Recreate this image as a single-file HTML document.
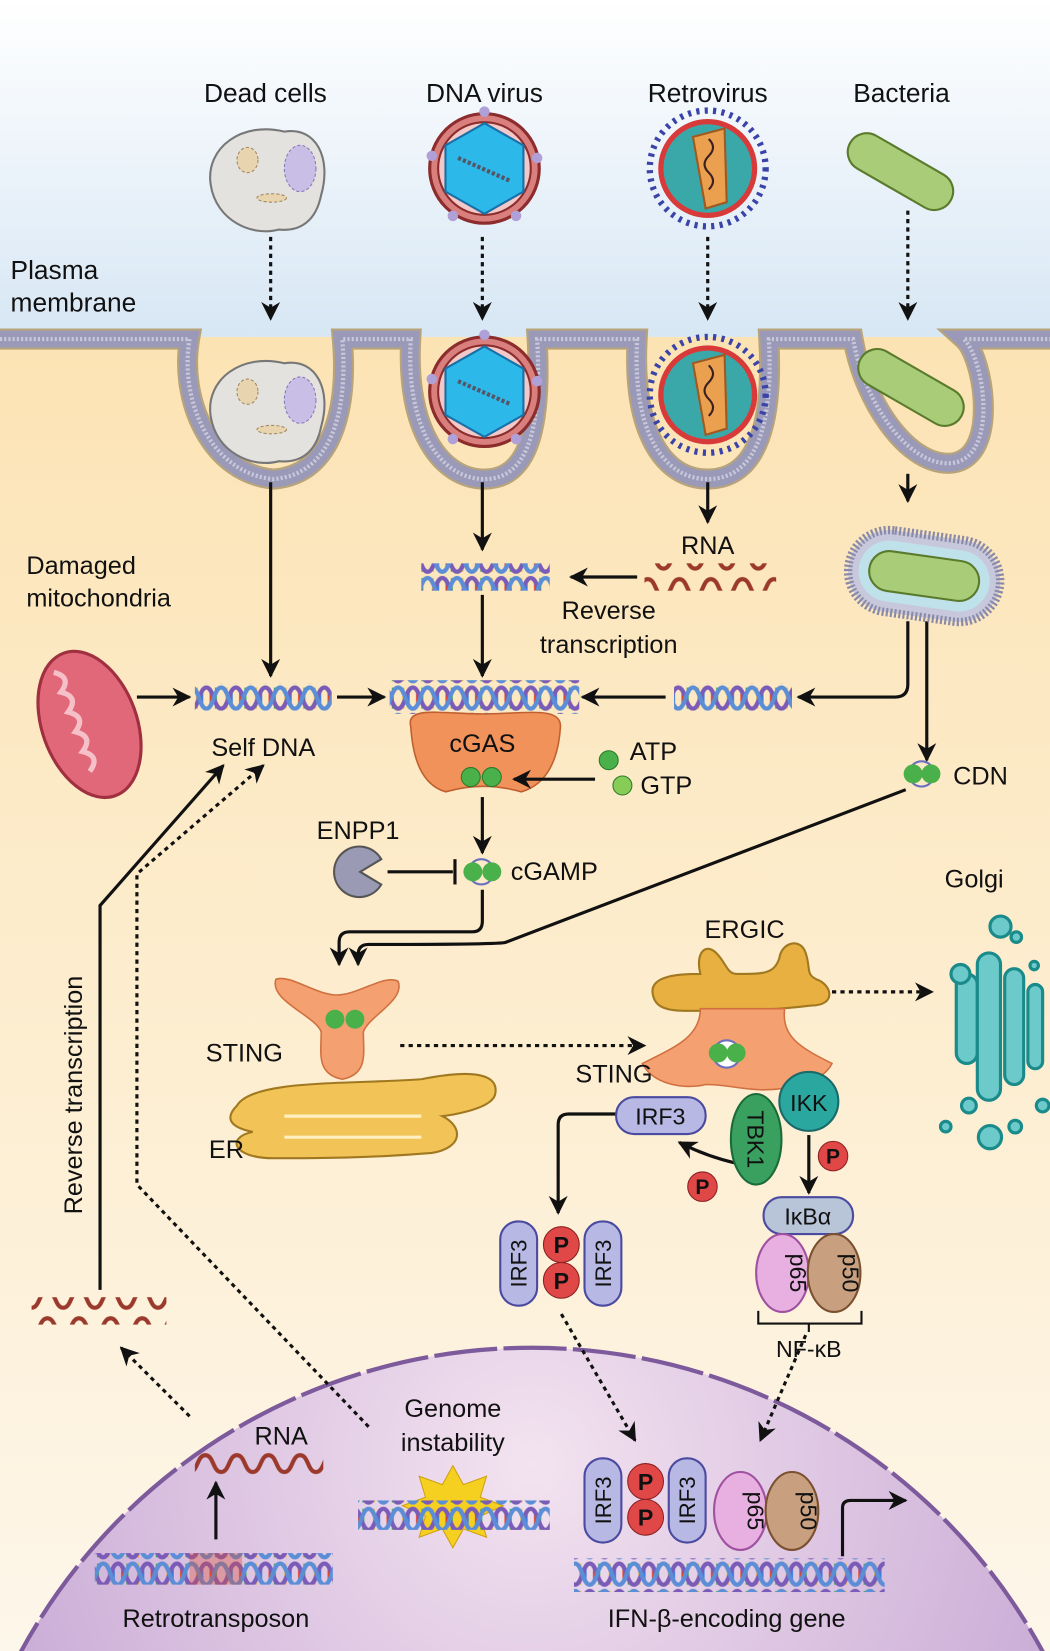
<!DOCTYPE html>
<html><head><meta charset="utf-8"><style>
html,body{margin:0;padding:0;width:1050px;height:1651px;overflow:hidden;background:#fff}
svg{display:block}
text{font-family:"Liberation Sans",sans-serif;fill:#111}
</style></head><body>
<svg width="1050" height="1651" viewBox="0 0 997 1568" preserveAspectRatio="none" xmlns="http://www.w3.org/2000/svg">
<defs>
<linearGradient id="sky" x1="0" y1="0" x2="0" y2="1"><stop offset="0" stop-color="#ffffff"/><stop offset="1" stop-color="#d6e6f4"/></linearGradient>
<linearGradient id="cyto" x1="0" y1="0" x2="0" y2="1"><stop offset="0" stop-color="#fce3b4"/><stop offset="0.6" stop-color="#fdefd4"/><stop offset="1" stop-color="#fdf6ea"/></linearGradient>
<radialGradient id="nuc" cx="0.5" cy="0.1" r="0.9"><stop offset="0" stop-color="#f3e3f0"/><stop offset="0.5" stop-color="#cdb0d8"/><stop offset="1" stop-color="#9d7bb8"/></radialGradient>
<pattern id="helix" width="28" height="26" patternUnits="userSpaceOnUse">
<line x1="4" y1="5" x2="4" y2="21" stroke="#e0442a" stroke-width="2"/><line x1="9" y1="3" x2="9" y2="23" stroke="#3ab24a" stroke-width="2"/><line x1="19" y1="3" x2="19" y2="23" stroke="#f2b632" stroke-width="2"/><line x1="24" y1="5" x2="24" y2="21" stroke="#3a7be0" stroke-width="2"/>
<path d="M0 3 C7 3 7 23 14 23 C21 23 21 3 28 3" fill="none" stroke="#7a5cb8" stroke-width="4"/>
<path d="M0 23 C7 23 7 3 14 3 C21 3 21 23 28 23" fill="none" stroke="#5b8ed6" stroke-width="4"/>
</pattern>
<pattern id="rna" width="30" height="26" patternUnits="userSpaceOnUse">
<path d="M0 20 C8 20 7 4 15 4 C23 4 22 20 30 20" fill="none" stroke="#9b3a2c" stroke-width="4"/>
</pattern>
<marker id="ar" viewBox="0 0 10 10" refX="9" refY="5" markerWidth="6" markerHeight="6" orient="auto"><path d="M0 0L10 5L0 10L3 5z" fill="#111"/></marker>
</defs>

<rect width="997" height="330" fill="url(#sky)"/>
<rect y="320" width="997" height="1248" fill="url(#cyto)"/>
<circle cx="505" cy="1832" r="552" fill="url(#nuc)" stroke="#7c5a9c" stroke-width="4" stroke-dasharray="60 6"/>

<!-- membrane -->
<g fill="none">
<path d="M0 322 H180 C170 380 200 450 260 455 C320 450 330 380 325 322 H390 C385 410 420 455 460 455 C500 455 515 410 510 322 H605 C600 410 630 455 672 455 C715 455 735 410 730 322 H810 C820 380 860 440 900 440 C950 440 935 340 915 322 H997" stroke="#b8a47a" stroke-width="20"/>
<path d="M0 322 H180 C170 380 200 450 260 455 C320 450 330 380 325 322 H390 C385 410 420 455 460 455 C500 455 515 410 510 322 H605 C600 410 630 455 672 455 C715 455 735 410 730 322 H810 C820 380 860 440 900 440 C950 440 935 340 915 322 H997" stroke="#9a9ab8" stroke-width="16"/>
<path d="M0 322 H180 C170 380 200 450 260 455 C320 450 330 380 325 322 H390 C385 410 420 455 460 455 C500 455 515 410 510 322 H605 C600 410 630 455 672 455 C715 455 735 410 730 322 H810 C820 380 860 440 900 440 C950 440 935 340 915 322 H997" stroke="#c8c8dc" stroke-width="4" stroke-dasharray="2 2"/>
</g>

<g font-size="25" text-anchor="middle">
<text x="252" y="97">Dead cells</text><text x="460" y="97">DNA virus</text><text x="672" y="97">Retrovirus</text><text x="856" y="97">Bacteria</text>
</g>
<text x="10" y="265" font-size="25">Plasma</text><text x="10" y="296" font-size="25">membrane</text>

<g id="dc"><path d="M200 175 C195 140 230 115 270 125 C300 120 315 150 305 185 C300 210 285 220 265 218 C240 225 205 210 200 175z" fill="#e3e2de" stroke="#777" stroke-width="2"/>
<ellipse cx="285" cy="160" rx="15" ry="22" fill="#c9bfe6" stroke="#8877bb" stroke-dasharray="3 2"/>
<ellipse cx="235" cy="152" rx="10" ry="12" fill="#e8d5b0" stroke="#a08860" stroke-dasharray="3 2"/>
<ellipse cx="258" cy="188" rx="14" ry="4" fill="#e8d5b0" stroke="#a08860" stroke-dasharray="3 2"/></g>
<use href="#dc" transform="translate(0,220)"/>
<g id="dv"><circle cx="460" cy="160" r="52" fill="#d9807f" stroke="#8c2c2c" stroke-width="3"/><circle cx="460" cy="160" r="44" fill="#f3c8c8" stroke="#8c2c2c" stroke-width="2"/>
<polygon points="460,117 497,138 497,182 460,203 423,182 423,138" fill="#2cb8e8" stroke="#1870a8" stroke-width="2"/>
<line x1="435" y1="150" x2="485" y2="172" stroke="#556" stroke-width="4" stroke-dasharray="3 2"/>
<circle cx="410" cy="148" r="5" fill="#b0a0d8"/><circle cx="510" cy="150" r="5" fill="#b0a0d8"/><circle cx="430" cy="205" r="5" fill="#b0a0d8"/><circle cx="490" cy="205" r="5" fill="#b0a0d8"/><circle cx="460" cy="106" r="5" fill="#b0a0d8"/></g>
<use href="#dv" transform="translate(0,212)"/>
<g id="rv"><circle cx="672" cy="160" r="55" fill="none" stroke="#3a44a8" stroke-width="6" stroke-dasharray="3 5"/><circle cx="672" cy="160" r="47" fill="#d83a3a"/><circle cx="672" cy="160" r="42" fill="#3aa8a8"/>
<path d="M658 130 L688 122 L690 192 L670 198z" fill="#eba050" stroke="#a05a20" stroke-width="2"/><path d="M673 132 q8 8 0 16 q-8 8 0 16 q8 8 0 16" fill="none" stroke="#3a2020" stroke-width="2"/></g>
<use href="#rv" transform="translate(0,215)"/>
<rect x="800" y="145" width="110" height="36" rx="18" fill="#a8cc78" stroke="#5a7a2c" stroke-width="2" transform="rotate(30 855 163)"/>
<rect x="810" y="350" width="110" height="36" rx="18" fill="#a8cc78" stroke="#5a7a2c" stroke-width="2" transform="rotate(30 865 368)"/>

<g stroke="#111" stroke-width="3" stroke-dasharray="4 4" marker-end="url(#ar)" fill="none">
<line x1="257" y1="225" x2="257" y2="303"/><line x1="458" y1="225" x2="458" y2="303"/><line x1="672" y1="225" x2="672" y2="303"/><line x1="862" y1="200" x2="862" y2="303"/>
</g>

<g stroke="#111" stroke-width="3" fill="none" marker-end="url(#ar)">
<line x1="257" y1="458" x2="257" y2="642"/>
<line x1="458" y1="458" x2="458" y2="522"/>
<line x1="672" y1="458" x2="672" y2="496"/>
<line x1="862" y1="450" x2="862" y2="476"/>
<line x1="605" y1="548" x2="542" y2="548"/>
<line x1="458" y1="565" x2="458" y2="642"/>
<path d="M862 590 V650 Q862 662 850 662 H758"/>
<path d="M632 662 H553"/>
<path d="M880 590 V722"/>
<line x1="130" y1="662" x2="180" y2="662"/>
<line x1="320" y1="662" x2="365" y2="662"/>
<line x1="458" y1="757" x2="458" y2="810"/>
<path d="M458 845 V875 Q458 885 448 885 H332 Q322 885 322 895 V916"/>
<path d="M860 750 L480 895 Q475 897 350 897 Q340 897 340 907 V916"/>
<path d="M700 1105 Q670 1098 645 1085"/>
<line x1="768" y1="1078" x2="768" y2="1133"/>
<path d="M585 1058 H540 Q530 1058 530 1068 V1152"/>
<path d="M95 1225 V860 L212 727"/>
<line x1="205" y1="1462" x2="205" y2="1408"/>
<path d="M800 1478 V1432 Q800 1425 808 1425 H860"/>
</g>
<g stroke="#111" stroke-width="3" stroke-dasharray="4 4" fill="none" marker-end="url(#ar)">
<line x1="380" y1="993" x2="612" y2="993"/>
<line x1="790" y1="942" x2="885" y2="942"/>
<line x1="533" y1="1248" x2="603" y2="1368"/>
<line x1="765" y1="1268" x2="722" y2="1368"/>
<line x1="180" y1="1345" x2="115" y2="1280"/>
<path d="M350 1355 L130 1125 V830 L250 727"/>
</g>

<rect x="805" y="508" width="145" height="78" rx="39" fill="#c8c8dc" stroke="#8a8aa8" stroke-width="8" stroke-dasharray="2 2" transform="rotate(8 877 547)"/>
<rect x="815" y="518" width="125" height="58" rx="29" fill="#bfe2ea" transform="rotate(8 877 547)"/>
<rect x="825" y="528" width="105" height="38" rx="19" fill="#a8cc78" stroke="#5a7a2c" stroke-width="2" transform="rotate(8 877 547)"/>

<rect x="400" y="535" width="122" height="26" fill="url(#helix)"/>
<rect x="612" y="535" width="125" height="26" fill="url(#rna)"/>
<text x="672" y="526" font-size="24" text-anchor="middle">RNA</text>
<text x="578" y="588" font-size="24" text-anchor="middle">Reverse</text><text x="578" y="620" font-size="24" text-anchor="middle">transcription</text>
<rect x="185" y="649" width="130" height="26" fill="url(#helix)"/>
<rect x="370" y="646" width="180" height="32" fill="url(#helix)"/>
<rect x="640" y="649" width="112" height="26" fill="url(#helix)"/>
<text x="250" y="718" font-size="24" text-anchor="middle">Self DNA</text>
<text x="25" y="545" font-size="24">Damaged</text><text x="25" y="576" font-size="24">mitochondria</text>
<ellipse cx="85" cy="688" rx="45" ry="72" fill="#e06878" stroke="#a03040" stroke-width="3" transform="rotate(-20 85 688)"/>
<path d="M70 630 q15 10 0 20 q15 10 0 20 q15 10 0 20 q15 10 0 20 q15 10 0 20" fill="none" stroke="#f6c0c8" stroke-width="5" transform="rotate(-20 85 688)"/>

<path d="M390 690 C385 670 420 678 458 678 C500 678 535 670 532 692 C530 720 520 745 495 752 C470 745 448 745 423 752 C400 745 392 720 390 690z" fill="#f0925a" stroke="#c06030" stroke-width="1.5"/>
<text x="458" y="714" font-size="24" text-anchor="middle">cGAS</text>
<circle cx="447" cy="738" r="9" fill="#4ab04a" stroke="#2a7a2a"/><circle cx="467" cy="738" r="9" fill="#4ab04a" stroke="#2a7a2a"/>
<line x1="565" y1="740" x2="488" y2="740" stroke="#111" stroke-width="3" marker-end="url(#ar)"/>
<circle cx="578" cy="722" r="9" fill="#4ab04a" stroke="#2a7a2a"/><circle cx="591" cy="746" r="9" fill="#88cc58" stroke="#2a7a2a"/>
<text x="598" y="722" font-size="24">ATP</text><text x="608" y="754" font-size="24">GTP</text>
<circle cx="457" cy="828" r="12" fill="none" stroke="#6a70c0" stroke-width="2"/>
<circle cx="449" cy="828" r="9" fill="#4ab04a"/><circle cx="467" cy="828" r="9" fill="#4ab04a"/>
<text x="485" y="836" font-size="24">cGAMP</text>
<path d="M362 816 A24 24 0 1 0 362 840 L342 828z" fill="#9a9ab4" stroke="#555" stroke-width="2"/>
<text x="340" y="797" font-size="24" text-anchor="middle">ENPP1</text>
<line x1="368" y1="828" x2="430" y2="828" stroke="#111" stroke-width="3"/><line x1="432" y1="816" x2="432" y2="840" stroke="#111" stroke-width="3"/>
<circle cx="875" cy="735" r="12" fill="none" stroke="#6a70c0" stroke-width="2"/><circle cx="867" cy="735" r="9" fill="#4ab04a"/><circle cx="884" cy="735" r="9" fill="#4ab04a"/>
<text x="905" y="745" font-size="24">CDN</text>

<path d="M225 1050 C240 1025 330 1030 400 1025 C450 1015 475 1020 470 1040 C465 1055 420 1060 420 1060 C440 1070 440 1090 410 1095 C350 1100 300 1100 260 1100 C220 1100 215 1080 240 1075 C215 1070 215 1060 225 1050z" fill="#f2c458" stroke="#a07820" stroke-width="2"/>
<path d="M270 1060 H400 M270 1080 H400" stroke="#fff0c0" stroke-width="3"/>
<path d="M262 930 C275 925 300 945 320 945 C340 945 365 925 378 932 C385 950 350 965 345 980 C345 1000 350 1020 325 1025 C300 1020 305 1000 305 980 C300 965 255 950 262 930z" fill="#f5a070" stroke="#d07040" stroke-width="1.5"/>
<circle cx="318" cy="968" r="9" fill="#4ab04a"/><circle cx="337" cy="968" r="9" fill="#4ab04a"/>
<text x="232" y="1008" font-size="24" text-anchor="middle">STING</text>
<text x="215" y="1100" font-size="24" text-anchor="middle">ER</text>

<text x="707" y="891" font-size="24" text-anchor="middle">ERGIC</text>
<path d="M620 945 C615 925 650 925 665 925 C660 905 670 895 680 905 C690 915 690 925 700 925 C725 925 735 925 740 910 C742 895 760 890 765 905 C770 920 765 925 775 930 C790 935 795 955 770 955 C730 960 690 960 650 960 C630 960 622 955 620 945z" fill="#e8b040" stroke="#a07820" stroke-width="2"/>
<path d="M665 958 H745 C742 985 760 995 790 1010 C780 1030 745 1035 725 1035 C705 1035 690 1030 670 1030 C650 1035 620 1030 610 1010 C640 995 665 985 665 958z" fill="#f5a070" stroke="#d07040" stroke-width="1.5"/>
<circle cx="690" cy="1001" r="13" fill="#fff" stroke="#6a70c0" stroke-width="2"/>
<circle cx="682" cy="1000" r="9" fill="#4ab04a"/><circle cx="699" cy="1000" r="9" fill="#4ab04a"/>
<text x="583" y="1028" font-size="24" text-anchor="middle">STING</text>
<text x="925" y="843" font-size="24" text-anchor="middle">Golgi</text>
<g fill="#6ccaca" stroke="#1a8a8a" stroke-width="3">
<rect x="908" y="925" width="20" height="85" rx="10"/><rect x="928" y="905" width="22" height="140" rx="11"/><rect x="954" y="920" width="18" height="110" rx="9"/><rect x="976" y="935" width="14" height="80" rx="7"/>
<circle cx="950" cy="880" r="10"/><circle cx="940" cy="1080" r="11"/><circle cx="920" cy="1050" r="7"/><circle cx="990" cy="1050" r="6"/><circle cx="898" cy="1070" r="5"/><circle cx="982" cy="917" r="4"/><circle cx="965" cy="890" r="5"/><circle cx="912" cy="925" r="9"/><circle cx="964" cy="1070" r="6"/>
</g>

<rect x="585" y="1042" width="85" height="35" rx="17" fill="#b8b8e4" stroke="#4a4aa0" stroke-width="2"/>
<text x="627" y="1068" font-size="22" text-anchor="middle">IRF3</text>
<ellipse cx="718" cy="1082" rx="24" ry="43" fill="#3aa060" stroke="#1a6a3a" stroke-width="2"/>
<text font-size="22" text-anchor="middle" transform="translate(710 1082) rotate(90)">TBK1</text>
<circle cx="768" cy="1046" r="28" fill="#2aa8a0" stroke="#1a6a6a" stroke-width="2"/>
<text x="768" y="1055" font-size="22" text-anchor="middle">IKK</text>
<g font-size="20" font-weight="bold" text-anchor="middle">
<circle cx="791" cy="1098" r="14" fill="#e04848" stroke="#8a2020"/><text x="791" y="1105">P</text>
<circle cx="667" cy="1127" r="14" fill="#e04848" stroke="#8a2020"/><text x="667" y="1134">P</text>
</g>
<rect x="725" y="1137" width="85" height="35" rx="17" fill="#b8c4d8" stroke="#4a4aa0" stroke-width="2"/>
<text x="767" y="1163" font-size="22" text-anchor="middle">IκBα</text>
<ellipse cx="743" cy="1209" rx="25" ry="37" fill="#e8b0e0" stroke="#a050a0" stroke-width="2"/>
<ellipse cx="792" cy="1209" rx="25" ry="37" fill="#c8a080" stroke="#7a5030" stroke-width="2"/>
<text font-size="22" text-anchor="middle" transform="translate(750 1209) rotate(90)">p65</text>
<text font-size="22" text-anchor="middle" transform="translate(800 1209) rotate(90)">p50</text>
<path d="M720 1245 V1257 H818 V1245 M768 1257 V1265" fill="none" stroke="#111" stroke-width="2"/>
<text x="768" y="1289" font-size="22" text-anchor="middle">NF-κB</text>

<g id="dim">
<rect x="475" y="1160" width="35" height="80" rx="17" fill="#b8b8e4" stroke="#4a4aa0" stroke-width="2"/>
<rect x="555" y="1160" width="35" height="80" rx="17" fill="#b8b8e4" stroke="#4a4aa0" stroke-width="2"/>
<text font-size="21" text-anchor="middle" transform="translate(500 1200) rotate(-90)">IRF3</text>
<text font-size="21" text-anchor="middle" transform="translate(580 1200) rotate(-90)">IRF3</text>
<circle cx="533" cy="1182" r="17" fill="#e04848" stroke="#8a2020"/><circle cx="533" cy="1216" r="17" fill="#e04848" stroke="#8a2020"/>
<text x="533" y="1190" font-size="22" font-weight="bold" text-anchor="middle">P</text><text x="533" y="1224" font-size="22" font-weight="bold" text-anchor="middle">P</text>
</g>
<use href="#dim" transform="translate(80 225)"/>
<ellipse cx="703" cy="1435" rx="25" ry="37" fill="#e8b0e0" stroke="#a050a0" stroke-width="2"/>
<ellipse cx="752" cy="1435" rx="25" ry="37" fill="#c8a080" stroke="#7a5030" stroke-width="2"/>
<text font-size="22" text-anchor="middle" transform="translate(710 1435) rotate(90)">p65</text>
<text font-size="22" text-anchor="middle" transform="translate(760 1435) rotate(90)">p50</text>

<text font-size="24" text-anchor="middle" transform="translate(78 1040) rotate(-90)">Reverse transcription</text>
<rect x="30" y="1232" width="128" height="26" fill="url(#rna)"/>

<text x="267" y="1372" font-size="24" text-anchor="middle">RNA</text>
<rect x="185" y="1378" width="122" height="26" fill="url(#rna)"/>
<rect x="90" y="1475" width="226" height="30" fill="url(#helix)"/>
<rect x="180" y="1475" width="50" height="30" fill="#e04a30" opacity="0.35"/>
<text x="205" y="1545" font-size="24" text-anchor="middle">Retrotransposon</text>
<text x="430" y="1346" font-size="24" text-anchor="middle">Genome</text><text x="430" y="1378" font-size="24" text-anchor="middle">instability</text>
<polygon points="430,1392 440,1410 462,1402 456,1422 478,1430 456,1440 462,1460 440,1452 430,1470 420,1452 398,1460 404,1440 382,1430 404,1422 398,1402 420,1410" fill="#f6d020" stroke="#d0a010"/>
<rect x="340" y="1425" width="182" height="28" fill="url(#helix)"/>
<rect x="545" y="1480" width="295" height="32" fill="url(#helix)"/>
<text x="690" y="1545" font-size="24" text-anchor="middle">IFN-β-encoding gene</text>
</svg>
</body></html>
